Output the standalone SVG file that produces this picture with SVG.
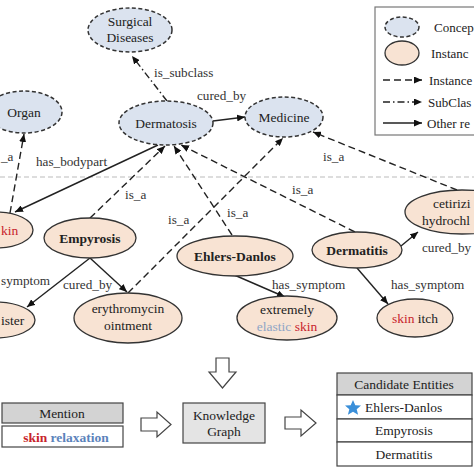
<svg xmlns="http://www.w3.org/2000/svg" width="474" height="474" viewBox="0 0 474 474" font-family="'Liberation Serif', 'DejaVu Serif', serif">
<style>
text{font-family:'Liberation Serif','DejaVu Serif',serif;font-size:13.5px;fill:#222}
.lbl{font-size:13.2px;fill:#333}
.lg{font-size:13px}
.b{font-weight:bold}
.concept{fill:#dbe3ef;stroke:#333;stroke-width:1.5;stroke-dasharray:4 2.5}
.inst{fill:#f8e3d3;stroke:#333;stroke-width:1.3}
.e{fill:none;stroke:#222;stroke-width:1.4}
.dash{stroke-dasharray:7 4}
.dd{stroke-dasharray:7 3 1.5 3}
.red{fill:#c8242c}
.blu{fill:#5b83bb}
.grey{fill:#8fa5c6}
.hol{fill:#fff;stroke:#444;stroke-width:1.2}
.box{stroke:#444;stroke-width:1.2}
</style>
<defs>
<marker id="ah" markerUnits="userSpaceOnUse" markerWidth="9" markerHeight="7" refX="8" refY="3.5" orient="auto">
<path d="M0,0 L8,3.5 L0,7 z" fill="#111"/>
</marker>
</defs>
<rect width="474" height="474" fill="#fff"/>
<line x1="0" y1="177" x2="474" y2="177" stroke="#bbb" stroke-width="1" stroke-dasharray="5 3"/>

<g id="legend">
<rect x="375" y="7" width="110" height="128" fill="#fff" stroke="#777" stroke-width="1.2"/>
<ellipse class="concept" cx="402" cy="27" rx="17" ry="10"/>
<text class="lg" x="434" y="32">Concep</text>
<ellipse class="inst" cx="402" cy="53" rx="17" ry="12"/>
<text class="lg" x="431" y="58">Instanc</text>
<line class="e dash" x1="383" y1="80" x2="422" y2="80" marker-end="url(#ah)"/>
<text class="lg" x="429" y="85">Instance</text>
<line class="e dd" x1="383" y1="102" x2="422" y2="102" marker-end="url(#ah)"/>
<text class="lg" x="428" y="107">SubClas</text>
<line class="e" x1="383" y1="123" x2="422" y2="123" marker-end="url(#ah)"/>
<text class="lg" x="427" y="128">Other re</text>
</g>

<g id="connectors">
<line class="e dd" x1="167" y1="101" x2="132" y2="56" marker-end="url(#ah)"/>
<text class="lbl" x="154" y="77">is_subclass</text>
<line class="e" x1="213" y1="121" x2="245" y2="117" marker-end="url(#ah)"/>
<text class="lbl" x="197" y="100">cured_by</text>
<line class="e dash" x1="10" y1="213" x2="24" y2="134" marker-end="url(#ah)"/>
<text class="lbl" x="1" y="161">_a</text>
<line class="e" x1="158" y1="145" x2="15" y2="212" marker-end="url(#ah)"/>
<text class="lbl" x="36" y="166">has_bodypart</text>
<line class="e dash" x1="90" y1="218" x2="165" y2="146" marker-end="url(#ah)"/>
<text class="lbl" x="125" y="199">is_a</text>
<line class="e dash" x1="128" y1="293" x2="283" y2="138" marker-end="url(#ah)"/>
<text class="lbl" x="168" y="224">is_a</text>
<line class="e dash" x1="232" y1="235" x2="174" y2="146" marker-end="url(#ah)"/>
<text class="lbl" x="227" y="217">is_a</text>
<line class="e dash" x1="355" y1="232" x2="181" y2="145" marker-end="url(#ah)"/>
<text class="lbl" x="292" y="194">is_a</text>
<line class="e dash" x1="457" y1="190" x2="313" y2="132" marker-end="url(#ah)"/>
<text class="lbl" x="323" y="161">is_a</text>
<line class="e" x1="401" y1="246" x2="418" y2="232" marker-end="url(#ah)"/>
<text class="lbl" x="422" y="252">cured_by</text>
<line class="e" x1="357" y1="268" x2="388" y2="304" marker-end="url(#ah)"/>
<text class="lbl" x="391" y="289">has_symptom</text>
<line class="e" x1="232" y1="274" x2="285" y2="297" marker-end="url(#ah)"/>
<text class="lbl" x="272" y="289">has_symptom</text>
<line class="e" x1="90" y1="258" x2="27" y2="307" marker-end="url(#ah)"/>
<text class="lbl" x="1" y="285">symptom</text>
<line class="e" x1="90" y1="258" x2="127" y2="292" marker-end="url(#ah)"/>
<text class="lbl" x="63" y="289">cured_by</text>
</g>

<g id="surgical-diseases">
<ellipse class="concept" cx="130" cy="30" rx="42" ry="22"/>
<text x="130" y="26" text-anchor="middle">Surgical</text>
<text x="130" y="42" text-anchor="middle">Diseases</text>
</g>
<g id="organ">
<ellipse class="concept" cx="24" cy="112" rx="38" ry="21"/>
<text x="24" y="117" text-anchor="middle">Organ</text>
</g>
<g id="dermatosis">
<ellipse class="concept" cx="166" cy="123" rx="47" ry="22"/>
<text x="166" y="128" text-anchor="middle">Dermatosis</text>
</g>
<g id="medicine">
<ellipse class="concept" cx="284" cy="117" rx="39" ry="20"/>
<text x="284" y="122" text-anchor="middle">Medicine</text>
</g>

<g id="skin">
<ellipse class="inst" cx="-4" cy="230" rx="37" ry="18"/>
<text class="red" x="1" y="235">kin</text>
</g>
<g id="empyrosis">
<ellipse class="inst" cx="90" cy="238" rx="46" ry="20"/>
<text class="b" x="90" y="243" text-anchor="middle">Empyrosis</text>
</g>
<g id="ehlers-danlos">
<ellipse class="inst" cx="235" cy="256" rx="58" ry="20"/>
<text class="b" x="235" y="261" text-anchor="middle">Ehlers-Danlos</text>
</g>
<g id="dermatitis">
<ellipse class="inst" cx="357" cy="250" rx="45" ry="18"/>
<text class="b" x="357" y="255" text-anchor="middle">Dermatitis</text>
</g>
<g id="cetirizine">
<ellipse class="inst" cx="462" cy="212" rx="57" ry="22"/>
<text x="433" y="208">cetirizi</text>
<text x="422" y="225">hydrochl</text>
</g>
<g id="blister">
<ellipse class="inst" cx="-5" cy="320" rx="40" ry="18"/>
<text x="1" y="325">ister</text>
</g>
<g id="erythromycin">
<ellipse class="inst" cx="128" cy="318" rx="54" ry="25"/>
<text x="128" y="313" text-anchor="middle">erythromycin</text>
<text x="128" y="330" text-anchor="middle">ointment</text>
</g>
<g id="extremely-elastic-skin">
<ellipse class="inst" cx="287" cy="318" rx="50" ry="22"/>
<text x="287" y="314" text-anchor="middle">extremely</text>
<text x="287" y="331" text-anchor="middle"><tspan class="grey">elastic</tspan> <tspan class="red">skin</tspan></text>
</g>
<g id="skin-itch">
<ellipse class="inst" cx="415" cy="318" rx="38" ry="19"/>
<text x="415" y="323" text-anchor="middle"><tspan class="red">skin</tspan> itch</text>
</g>

<g id="down-arrow">
<path class="hol" d="M216,358 H229 V372 H236 L222.5,388 L209,372 H216 Z"/>
</g>
<g id="mention">
<rect class="box" x="2" y="403" width="121" height="20" fill="#d3d3d3"/>
<text x="62" y="418" text-anchor="middle">Mention</text>
<rect class="box" x="2" y="426" width="121" height="21" fill="#fff"/>
<text class="b" x="66" y="442" text-anchor="middle"><tspan class="red">skin</tspan> <tspan class="blu">relaxation</tspan></text>
</g>
<g id="arrow-1">
<path class="hol" d="M141,418 H157 V412 L171,424.5 L157,437 V431 H141 Z"/>
</g>
<g id="knowledge-graph">
<rect class="box" x="183" y="403" width="82" height="40" fill="#e4e4e4"/>
<text x="224" y="420" text-anchor="middle">Knowledge</text>
<text x="224" y="436" text-anchor="middle">Graph</text>
</g>
<g id="arrow-2">
<path class="hol" d="M285,417 H301 V410 L316,423 L301,436 V429 H285 Z"/>
</g>
<g id="candidate-entities">
<rect class="box" x="337" y="373" width="135" height="22" fill="#d3d3d3"/>
<rect class="box" x="337" y="395" width="135" height="24" fill="#fff"/>
<rect class="box" x="337" y="419" width="135" height="23" fill="#fff"/>
<rect class="box" x="337" y="442" width="135" height="24" fill="#fff"/>
<text x="404" y="389" text-anchor="middle">Candidate Entities</text>
<path d="M353,400 L355.3,405.2 L361,405.6 L356.7,409.3 L358.1,414.8 L353,411.8 L347.9,414.8 L349.3,409.3 L345,405.6 L350.7,405.2 Z" fill="#3a8fd9"/>
<text x="365" y="412">Ehlers-Danlos</text>
<text x="404" y="435" text-anchor="middle">Empyrosis</text>
<text x="404" y="459" text-anchor="middle">Dermatitis</text>
</g>
</svg>
